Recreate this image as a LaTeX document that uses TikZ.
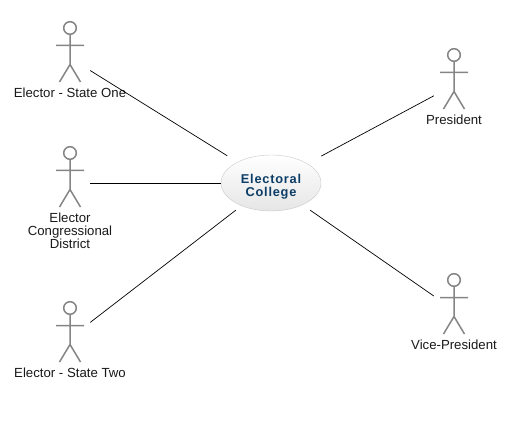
\documentclass[tikz,border=0pt]{standalone}
\usepackage{xcolor}
\usepackage{fontspec}
\setmainfont{Liberation Sans}
\newfontfamily\casefont[LetterSpace=6]{Liberation Sans}
\usetikzlibrary{positioning,shapes.geometric}
\definecolor{figgray}{HTML}{858585}
\definecolor{caseblue}{HTML}{0B3D66}
\definecolor{caseedge}{HTML}{C8C8C8}
\tikzset{
    actor/.style={
        rectangle,
        inner sep=0pt,
        minimum width=40pt,
        minimum height=76pt,
        path picture={
            \draw[figgray, line width=1.5pt]
                (path picture bounding box.center) ++(0,30pt) circle (6.3pt)
                (path picture bounding box.center) ++(0,23.5pt) -- ++(0,-30pt) -- ++(-10.5pt,-17.5pt)
                (path picture bounding box.center) ++(0,-6.5pt) -- ++(10.5pt,-17.5pt)
                (path picture bounding box.center) ++(-14pt,12.5pt) -- ++(28pt,0);
        }
    },
    actorname/.style={
        align=center,
        inner sep=0pt,
        font=\fontsize{13.2pt}{13pt}\selectfont,
        text=black!90
    },
    usecase/.style={
        draw=caseedge,
        ellipse,
        inner sep=0pt,
        minimum width=100pt,
        minimum height=56pt,
        top color=white,
        bottom color=black!10
    },
    casebox/.style={
        rectangle,
        inner sep=0pt,
        minimum width=100pt,
        minimum height=54pt
    },
    casename/.style={
        align=center,
        inner sep=0pt,
        text=caseblue,
        font=\casefont\bfseries\fontsize{12.8pt}{13pt}\selectfont
    },
    assoc/.style={draw=black, line width=0.7pt}
}

\begin{document}
\begin{tikzpicture}[x=1pt, y=-1pt, node distance=-8pt and 0pt]
    \useasboundingbox (0,0) rectangle (524,430);
    \node[usecase] (oval) at (271,183) {};
    \node[casebox] (college) at (271,183) {};
    \node[casename] (collegename) at (271,187) {Electoral\\College};

    \node[actor] (one) at (70,58) {};
    \node[actor] (district) at (70,183) {};
    \node[actor] (two) at (70,338) {};
    \node[actor] (president) at (454,85) {};
    \node[actor] (vice) at (454,310) {};

    \node[actorname, below=of one] (onename) {Elector - State One};
    \node[actorname, below=of district] (districtname) {Elector\\Congressional\\District};
    \node[actorname, below=of two] (twoname) {Elector - State Two};
    \node[actorname, below=of president] (presidentname) {President};
    \node[actorname, below=of vice] (vicename) {Vice-President};

    \draw[assoc] (one) -- (college);
    \draw[assoc] (district) -- (college);
    \draw[assoc] (two) -- (college);
    \draw[assoc] (president) -- (college);
    \draw[assoc] (vice) -- (college);
\end{tikzpicture}
\end{document}
